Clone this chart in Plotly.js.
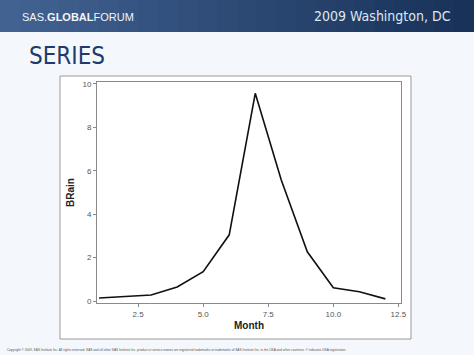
<!DOCTYPE html>
<html>
<head>
<meta charset="utf-8">
<script src="https://cdn.plot.ly/plotly-3.0.1.min.js"></script>
<style>
html,body{margin:0;padding:0;background:#f4f7fb;}
#chart{width:474px;height:355px;}
</style>
</head>
<body>
<div id="chart"></div>
<script>
// Data
var month = [1, 2, 3, 4, 5, 6, 7, 8, 9, 10, 11, 12];
var brain = [0.14, 0.2, 0.28, 0.65, 1.35, 3.05, 9.57, 5.58, 2.27, 0.61, 0.43, 0.1];
var xTicks = [2.5, 5.0, 7.5, 10.0, 12.5];
var xTickText = ["2.5", "5.0", "7.5", "10.0", "12.5"];
var yTicks = [0, 2, 4, 6, 8, 10];

// pixel -> paper helpers (plot area: x 97..401, y 82..303)
var L = 97, R = 401, T = 82, B = 303;
function px(x){ return (x - L) / (R - L); }
function py(y){ return (B - y) / (B - T); }

var shapes = [];
// banner gradient strips
var c0 = [66, 98, 146], c1 = [24, 50, 88];
var n = 24;
for (var i = 0; i < n; i++) {
  var t = i / (n - 1);
  var c = c0.map(function(v, k){ return Math.round(v + (c1[k] - v) * t); });
  shapes.push({type:'rect', xref:'paper', yref:'paper', layer:'below',
    x0: px(474 * i / n), x1: px(474 * (i + 1) / n + 1), y0: py(32), y1: py(0),
    fillcolor: 'rgb(' + c.join(',') + ')', line:{width:0}});
}
// outer white image box
shapes.push({type:'rect', xref:'paper', yref:'paper', layer:'below',
  x0: px(60), x1: px(411), y0: py(339), y1: py(76),
  fillcolor:'#ffffff', line:{color:'#9a9a9a', width:1}});

var annotations = [
  {text:'SAS.<b>GLOBAL</b>FORUM', xref:'paper', yref:'paper', x:px(20), y:py(17),
   xanchor:'left', yanchor:'middle', showarrow:false,
   font:{family:'Liberation Sans, Arial, sans-serif', size:11, color:'#f2f5fa'}},
  {text:'2009 Washington, DC', xref:'paper', yref:'paper', x:px(453), y:py(16),
   xanchor:'right', yanchor:'middle', showarrow:false,
   font:{family:'DejaVu Sans Condensed, DejaVu Sans, sans-serif', size:14, color:'#dfe7f1'}},
  {text:'SERIES', xref:'paper', yref:'paper', x:px(27), y:py(56),
   xanchor:'left', yanchor:'middle', showarrow:false,
   font:{family:'DejaVu Sans Condensed, DejaVu Sans, sans-serif', size:24, color:'#1d3b6e'}},
  {text:'Copyright © 2009, SAS Institute Inc. All rights reserved. SAS and all other SAS Institute Inc. product or service names are registered trademarks or trademarks of SAS Institute Inc. in the USA and other countries. ® indicates USA registration.',
   xref:'paper', yref:'paper', x:px(5), y:py(350),
   xanchor:'left', yanchor:'middle', showarrow:false,
   font:{family:'Liberation Sans, Arial, sans-serif', size:3.2, color:'#555555'}}
];

var trace = {
  x: month, y: brain, type:'scatter', mode:'lines',
  line:{color:'#111111', width:1.6}, hoverinfo:'none'
};

var layout = {
  width:474, height:355,
  margin:{l:L, r:474 - R, t:T, b:355 - B, pad:0},
  paper_bgcolor:'#f4f7fb', plot_bgcolor:'#ffffff',
  showlegend:false,
  xaxis:{range:[0.92, 12.6], tickvals:xTicks, ticktext:xTickText,
    showgrid:false, zeroline:false, showline:true, mirror:true,
    linecolor:'#8a8a8a', linewidth:1, ticks:'outside', ticklen:3, tickcolor:'#8a8a8a',
    tickfont:{family:'Liberation Sans, Arial, sans-serif', size:8, color:'#555555'},
    title:{text:'<b>Month</b>', standoff:4,
      font:{family:'Liberation Sans, Arial, sans-serif', size:10, color:'#222222'}}},
  yaxis:{range:[-0.09, 10.09], tickvals:yTicks,
    showgrid:false, zeroline:false, showline:true, mirror:true,
    linecolor:'#8a8a8a', linewidth:1, ticks:'outside', ticklen:3, tickcolor:'#8a8a8a',
    tickfont:{family:'Liberation Sans, Arial, sans-serif', size:8, color:'#555555'},
    title:{text:'<b>BRain</b>', standoff:5,
      font:{family:'Liberation Sans, Arial, sans-serif', size:10, color:'#222222'}}},
  shapes: shapes,
  annotations: annotations
};

Plotly.newPlot('chart', [trace], layout, {displayModeBar:false, staticPlot:true});
</script>
</body>
</html>
